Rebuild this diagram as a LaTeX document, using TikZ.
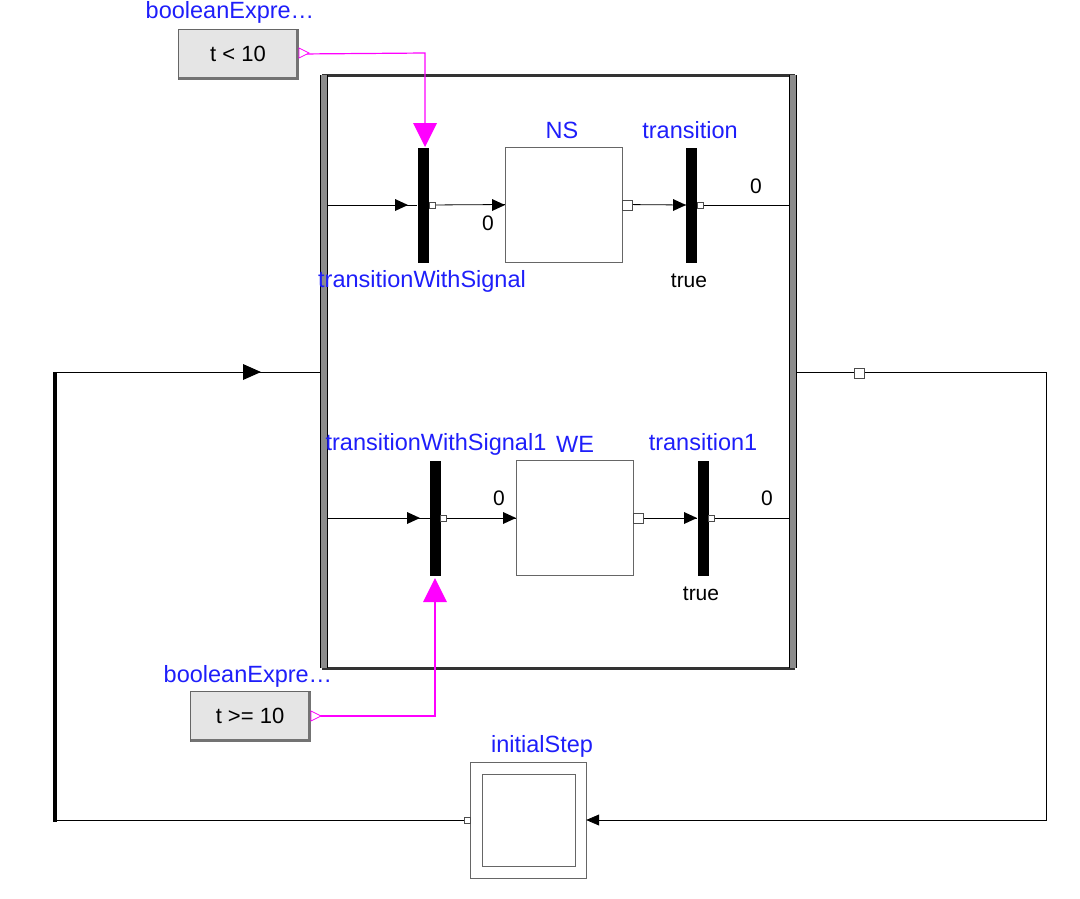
\documentclass[tikz,border=0pt]{standalone}
\usepackage{fontspec}
\setmainfont{Liberation Sans}
\usetikzlibrary{arrows.meta}
\definecolor{lblue}{RGB}{30,30,250}
\definecolor{mag}{RGB}{255,0,255}
\begin{document}
\begin{tikzpicture}[x=1pt,y=-1pt,
  lbl/.style={text=lblue,font=\fontsize{23.5}{23.5}\selectfont,inner sep=0},
  txt/.style={text=black,font=\fontsize{21}{21}\selectfont,inner sep=0},
  bar/.style={fill=black,draw=none,minimum width=11pt,minimum height=115pt,inner sep=0},
  stepbox/.style={draw=black!60,fill=white,minimum width=117pt,minimum height=115pt,inner sep=0},
  port/.style={draw=black!70,fill=white,minimum size=6pt,inner sep=0},
  bport/.style={draw=black!70,fill=white,minimum size=10pt,inner sep=0},
  flow/.style={black,line width=0.8pt},
  arr/.style={-{Triangle[length=13pt,width=11pt]}},
  boolbox/.style={draw=black!60,fill=black!10,minimum width=120pt,minimum height=50pt,inner sep=0,font=\fontsize{22}{22}\selectfont}
]
\useasboundingbox (0,0) rectangle (1080,898);
% parallel box
\draw[line width=3pt,black!80] (323,75) rectangle (793,668);
\fill[black!45] (320,75) rectangle (327,668);
\fill[black!45] (789,75) rectangle (796,668);
\draw[black] (320,75) -- (320,668) (327,75)--(327,668) (789,75)--(789,668) (796,75)--(796,668);
% top branch
\node[bar] (tws) at (423,205) {};
\node[stepbox] (NS) at (563.5,204.5) {};
\node[bar] (tr) at (691.5,205) {};
\coordinate (pl) at (327,205);
\coordinate (pr) at (789,205);
\draw[flow] (pl) -- (tws.west);
\draw[flow] (tws.east) -- (NS.west);
\draw[flow] (NS.east) -- (tr.west);
\draw[flow] (tr.east) -- (pr);
\fill (395,199) -- (408,205) -- (395,211) -- cycle;
\fill (492,199) -- (505,205) -- (492,211) -- cycle;
\fill (673,199) -- (686,205) -- (673,211) -- cycle;
\node[port] (twsp) at (432,205) {};
\node[bport] (NSp) at (627,205) {};
\node[port] (trp) at (700,205) {};
\node[lbl] at (562,130) {NS};
\node[lbl] at (690,130) {transition};
\node[lbl] at (422,281) {transitionWithSignal};
\node[txt] at (488,223) {0};
\node[txt] at (756,186) {0};
\node[txt] at (689,281) {true};
% bottom branch
\node[bar] (tws1) at (435.5,518) {};
\node[stepbox] (WE) at (574.5,518) {};
\node[bar] (tr1) at (703,518) {};
\coordinate (ql) at (327,518);
\coordinate (qr) at (789,518);
\draw[flow] (ql) -- (tws1.west);
\draw[flow] (tws1.east) -- (WE.west);
\draw[flow] (WE.east) -- (tr1.west);
\draw[flow] (tr1.east) -- (qr);
\fill (407,512) -- (420,518) -- (407,524) -- cycle;
\fill (503,512) -- (516,518) -- (503,524) -- cycle;
\fill (684,512) -- (697,518) -- (684,524) -- cycle;
\node[port] at (443,518) {};
\node[bport] at (638,518) {};
\node[port] at (711,518) {};
\node[lbl] at (436,444) {transitionWithSignal1};
\node[lbl] at (575,444) {WE};
\node[lbl] at (703,442) {transition1};
\node[txt] at (499,498) {0};
\node[txt] at (767,498) {0};
\node[txt] at (701,594) {true};
% boolean expressions
\node[boolbox] (b1) at (238,54) {t < 10};
\draw[black!55,line width=3pt] (179,78)--(297,78)--(297,30);
\node[lbl] at (230,12) {booleanExpre…};
\node[boolbox] (b2) at (250,716) {t >= 10};
\draw[black!55,line width=3pt] (191,740)--(309,740)--(309,692);
\node[lbl] at (248,676) {booleanExpre…};
\draw[mag,line width=1.2pt] (b1.east) ++(2,0) -- (425,53) -- (425,128);
\fill[mag] (413,123) -- (437,123) -- (425,147) -- cycle;
\draw[mag,fill=white,line width=0.8pt] (299,48) -- (309,53) -- (299,58) -- cycle;
\draw[mag,line width=1.2pt] (b2.east) ++(2,0) -- (435,716) -- (435,596);
\fill[mag] (423,602) -- (447,602) -- (435,578) -- cycle;
\draw[mag,fill=white,line width=0.8pt] (311,711) -- (321,716) -- (311,721) -- cycle;
% initial step
\node[draw=black!60,minimum width=116pt,minimum height=116pt,inner sep=0] (init) at (528,820) {};
\draw[black!60] (482,774) rectangle (575,866);
\node[lbl] at (542,746) {initialStep};
% loop
\coordinate (lt) at (55,372);
\coordinate (lb) at (55,820);
\coordinate (rt) at (1046,372);
\coordinate (rb) at (1046,820);
\draw[line width=4pt] (55,372) -- (55,822);
\draw[flow] (lt) -- (320,372);
\fill (243,364) -- (261,372) -- (243,380) -- cycle;
\draw[flow] (lb) -- (init.west);
\node[port] at (467,820) {};
\draw[flow,arr] (796,372) -- (rt) -- (rb) -- (init.east);
\node[bport] at (859,373) {};
\end{tikzpicture}
\end{document}
